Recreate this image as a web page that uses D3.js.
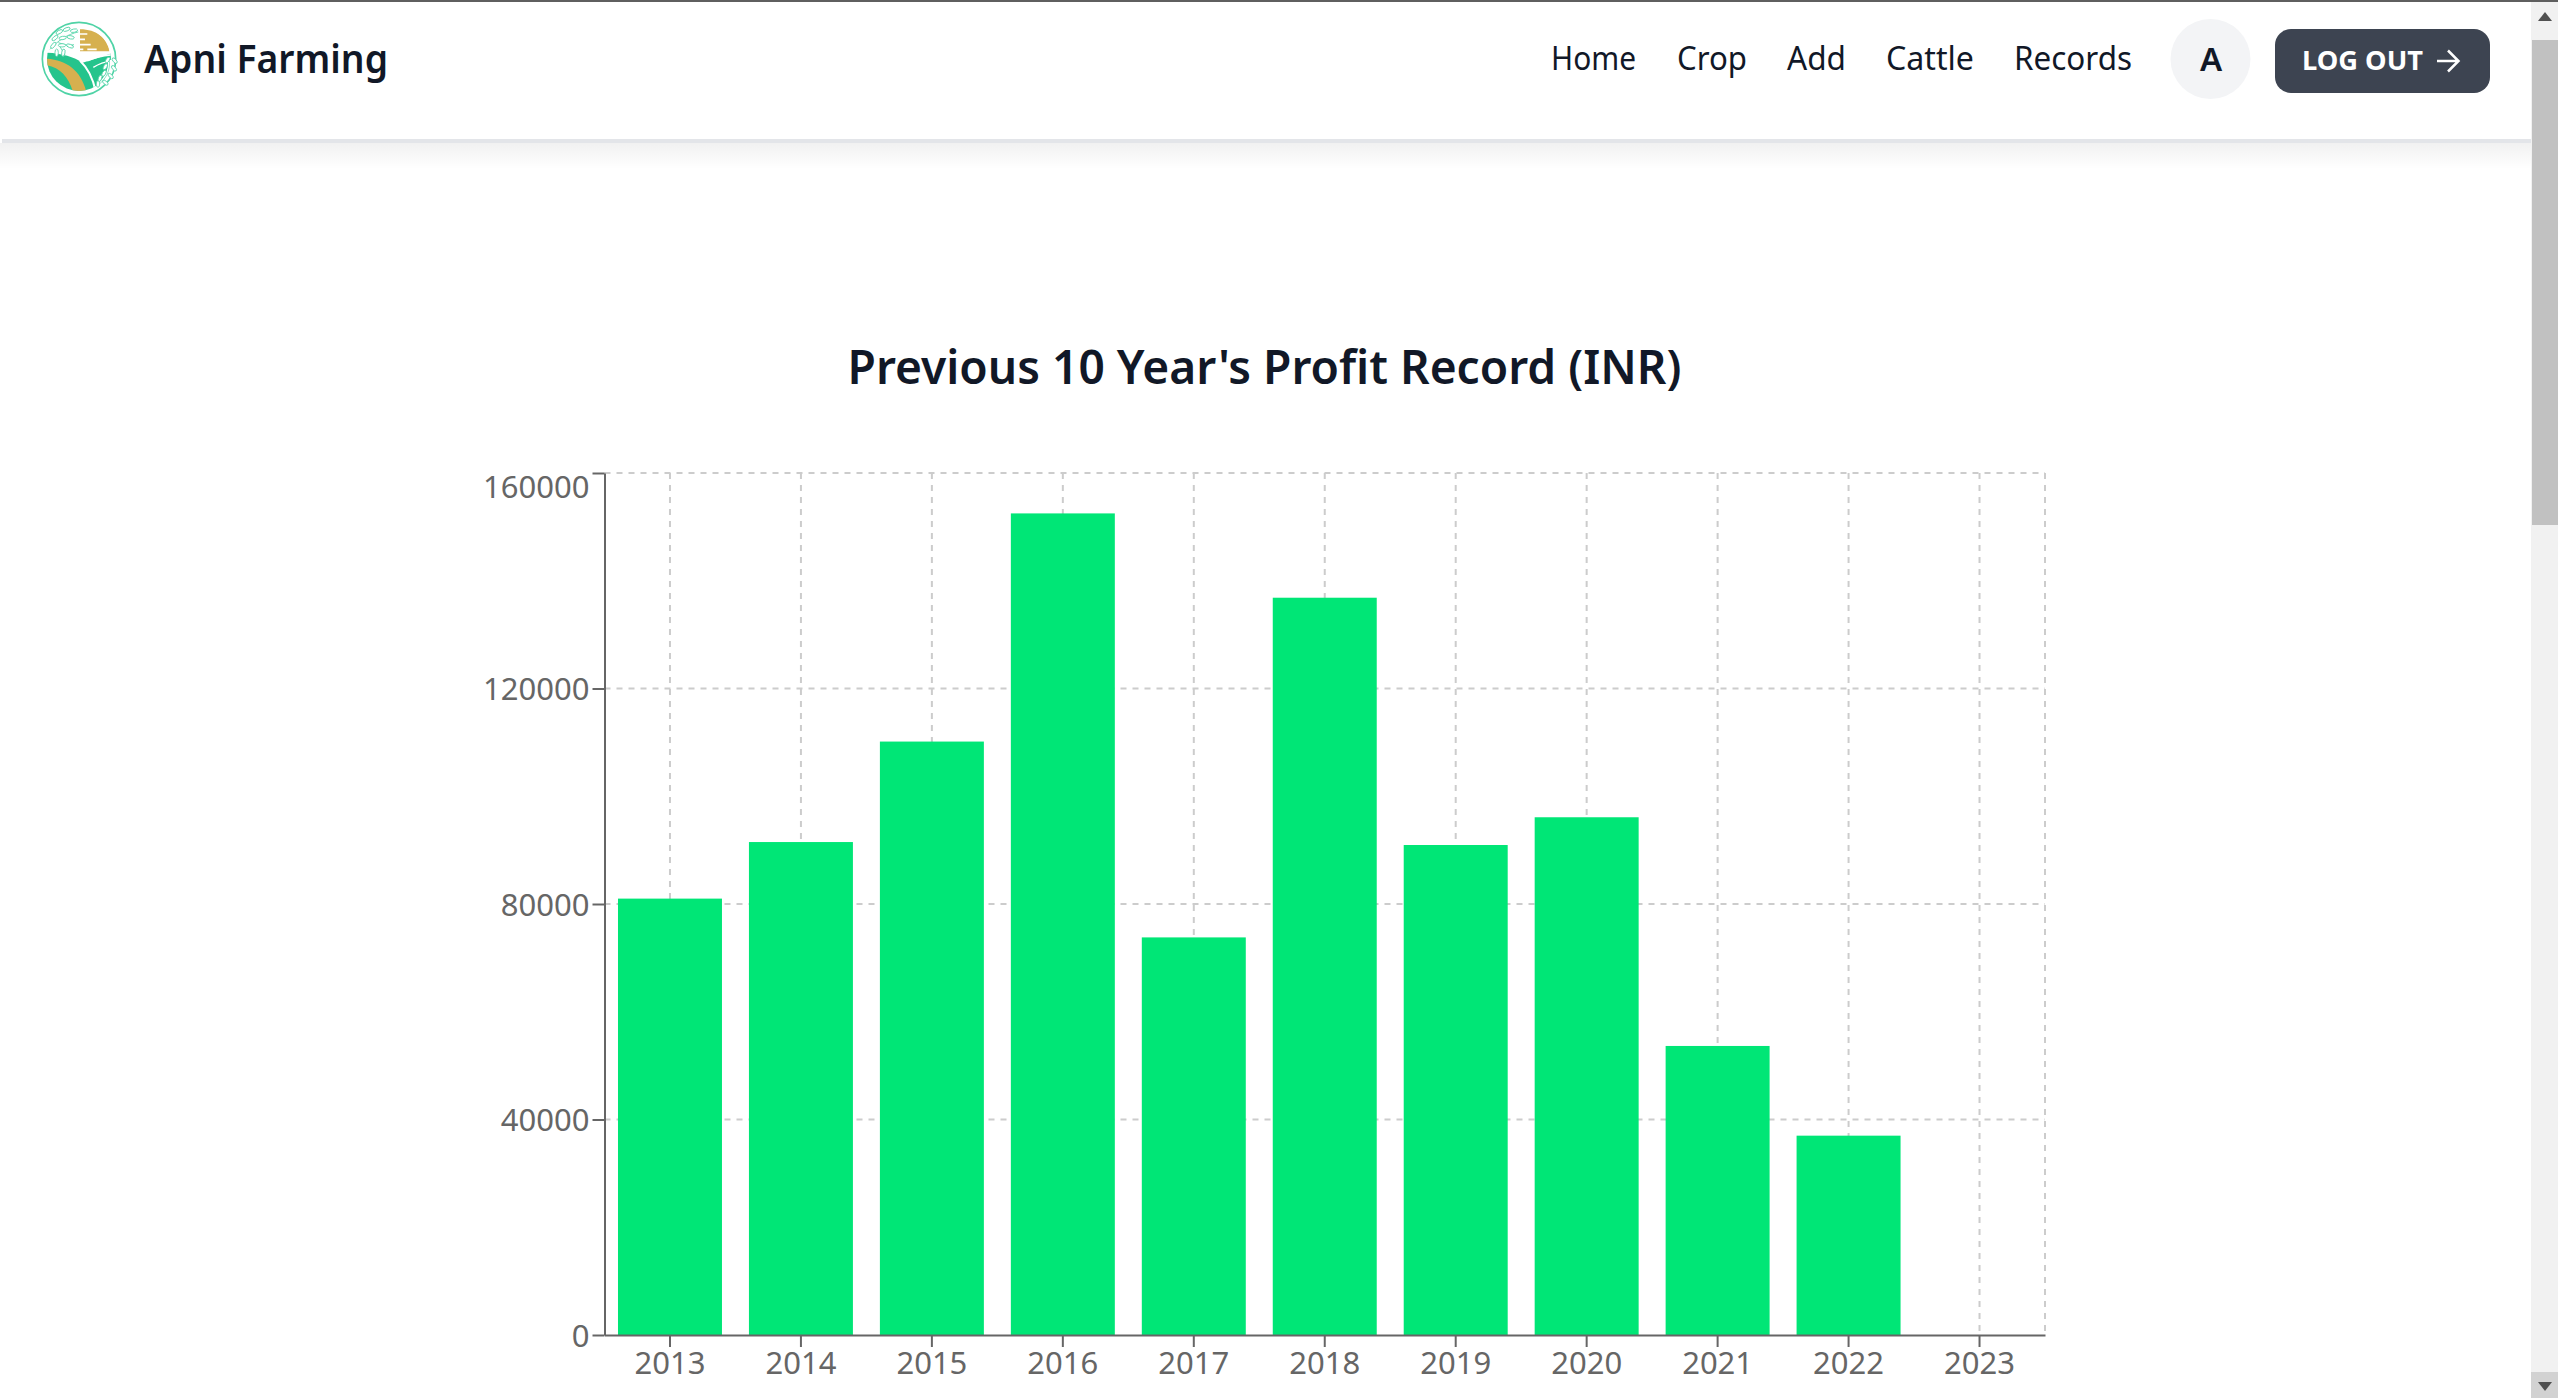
<!DOCTYPE html>
<html>
<head>
<meta charset="utf-8">
<title>Apni Farming</title>
<script src="https://cdn.jsdelivr.net/npm/d3@7"></script>
<style>
  html, body { margin: 0; padding: 0; background: #fff; overflow: hidden; }
  svg { display: block; }
  text { font-family: "Noto Sans", sans-serif; }
</style>
</head>
<body>
<div id="vis"></div>
<script>
const years = ['2013', '2014', '2015', '2016', '2017', '2018', '2019', '2020', '2021', '2022', '2023']
const profits = [81000, 91500, 110150, 152500, 73800, 136850, 90950, 96100, 53650, 37000, 0]
const yTicks = [0, 40000, 80000, 120000, 160000]
const chartTitle = "Previous 10 Year's Profit Record (INR)"
const brandName = 'Apni Farming'
const navLinks = ['Home', 'Crop', 'Add', 'Cattle', 'Records']
const navLeft = [1551, 1677, 1787, 1886, 2014]
const navWidth = [85, 70, 59, 88, 118]

const pageWidth = 2558
const pageHeight = 1398
const margin = {left: 604.5, top: 473, bottom: 63, right: 513}

const svg = d3.select('#vis').append('svg')
    .attr('width', pageWidth)
    .attr('height', pageHeight)

const defs = svg.append('defs')

// nav shadow fades out below the crisp band
const fade = defs.append('linearGradient')
    .attr('id', 'navFade')
    .attr('x1', 0).attr('x2', 0).attr('y1', 0).attr('y2', 1)
fade.append('stop').attr('offset', 0).attr('stop-color', '#000').attr('stop-opacity', 0.055)
fade.append('stop').attr('offset', 1).attr('stop-color', '#000').attr('stop-opacity', 0)

defs.append('clipPath').attr('id', 'logoClip')
    .append('circle').attr('cx', 147).attr('cy', 147).attr('r', 96)

drawChart()
drawNav()
drawScrollbar()

function drawChart(){
    const x = d3.scaleBand()
        .domain(years)
        .range([margin.left, pageWidth - margin.right])
        .paddingInner(0.206)
        .paddingOuter(0.103)
    const y = d3.scaleLinear()
        .domain([0, 160000])
        .range([pageHeight - margin.bottom, margin.top])
    const center = d => x(d) + x.bandwidth() / 2

    svg.append('text')
        .attr('x', 1264.5)
        .attr('y', 384)
        .attr('text-anchor', 'middle')
        .attr('textLength', 834)
        .attr('lengthAdjust', 'spacingAndGlyphs')
        .attr('font-size', 47)
        .attr('font-weight', 600)
        .attr('fill', '#111827')
        .text(chartTitle)

    // Grid first, the bars sit on top of it
    const grid = svg.append('g')
        .attr('stroke', '#ccc')
        .attr('stroke-width', 2)
        .attr('stroke-dasharray', '6 6')
    grid.selectAll('.h')
        .data(yTicks.filter(d => d > 0))
        .join('line')
        .attr('x1', x.range()[0])
        .attr('x2', x.range()[1])
        .attr('y1', d => y(d))
        .attr('y2', d => y(d))
    grid.selectAll('.v')
        .data(years)
        .join('line')
        .attr('x1', center)
        .attr('x2', center)
        .attr('y1', y.range()[1])
        .attr('y2', y.range()[0])
    grid.append('line')
        .attr('x1', x.range()[1])
        .attr('x2', x.range()[1])
        .attr('y1', y.range()[1])
        .attr('y2', y.range()[0])

    svg.append('g').selectAll('rect')
        .data(years)
        .join('rect')
        .attr('x', d => x(d))
        .attr('width', x.bandwidth())
        .attr('y', (d, i) => y(profits[i]))
        .attr('height', (d, i) => y(0) - y(profits[i]))
        .attr('fill', '#00e676')

    const xAxis = svg.append('g')
        .attr('transform', `translate(0,${y(0)})`)
        .call(d3.axisBottom(x).tickSize(12).tickSizeOuter(0).tickPadding(5))
    const yAxis = svg.append('g')
        .attr('transform', `translate(${margin.left},0)`)
        .call(d3.axisLeft(y).tickValues(yTicks).tickFormat(d3.format('d')).tickSize(12).tickSizeOuter(0).tickPadding(3))

    for (const axis of [xAxis, yAxis]) {
        axis.select('.domain').attr('stroke', '#666').attr('stroke-width', 2)
        axis.selectAll('.tick line').attr('stroke', '#666').attr('stroke-width', 2)
        axis.selectAll('.tick text')
            .attr('fill', '#666')
            .attr('font-size', 31)
            .style('font-family', '"Noto Sans", sans-serif')
    }
    yAxis.selectAll('.tick text').attr('dy', '0.36em')
    // the top label is pushed down inside the chart area
    yAxis.selectAll('.tick text').filter(d => d === 160000).attr('dy', '0.8em')
}

function drawNav(){
    svg.append('rect').attr('x', 0).attr('y', 143).attr('width', 2531).attr('height', 26).attr('fill', 'url(#navFade)')
    svg.append('rect').attr('x', 2).attr('y', 139).attr('width', 2529).attr('height', 4).attr('fill', '#e3e5e9')
    svg.append('rect').attr('x', 0).attr('y', 0).attr('width', pageWidth).attr('height', 139).attr('fill', '#fff')
    svg.append('rect').attr('x', 0).attr('y', 0).attr('width', pageWidth).attr('height', 2).attr('fill', '#5f5f5f')

    drawLogo()

    svg.append('text')
        .attr('x', 144)
        .attr('y', 73)
        .attr('textLength', 244)
        .attr('lengthAdjust', 'spacingAndGlyphs')
        .attr('font-size', 39)
        .attr('font-weight', 600)
        .attr('fill', '#111827')
        .text(brandName)

    svg.append('g').selectAll('text')
        .data(navLinks)
        .join('text')
        .attr('x', (d, i) => navLeft[i])
        .attr('y', 70)
        .attr('textLength', (d, i) => navWidth[i])
        .attr('lengthAdjust', 'spacingAndGlyphs')
        .attr('font-size', 33)
        .attr('fill', '#111827')
        .text(d => d)

    svg.append('circle').attr('cx', 2210.5).attr('cy', 59).attr('r', 40).attr('fill', '#f3f4f6')
    svg.append('text')
        .attr('x', 2211)
        .attr('y', 71)
        .attr('text-anchor', 'middle')
        .attr('font-size', 33)
        .attr('font-weight', 600)
        .attr('fill', '#111827')
        .text('A')

    svg.append('rect')
        .attr('x', 2275).attr('y', 29)
        .attr('width', 215).attr('height', 64)
        .attr('rx', 16)
        .attr('fill', '#3d4451')
    svg.append('text')
        .attr('x', 2302)
        .attr('y', 70)
        .attr('textLength', 121)
        .attr('lengthAdjust', 'spacingAndGlyphs')
        .attr('font-size', 27)
        .attr('font-weight', 700)
        .attr('fill', '#fff')
        .text('LOG OUT')
    svg.append('path')
        .attr('d', 'M2437 61H2458M2448 50.5L2458.5 61L2448 71.5')
        .attr('fill', 'none')
        .attr('stroke', '#fff')
        .attr('stroke-width', 2.5)
}

// logo is drawn in the 3x crop's units and scaled down
function drawLogo(){
    const teal = '#4fd3a6', green = '#25c48c', gold = '#d6b04f'
    const logo = svg.append('g').attr('transform', 'translate(30,10) scale(0.3333)')

    logo.append('circle').attr('cx', 147).attr('cy', 147).attr('r', 110)
        .attr('fill', '#fff').attr('stroke', teal).attr('stroke-width', 5)

    const inner = logo.append('g').attr('clip-path', 'url(#logoClip)')
    inner.append('path').attr('d', 'M150 58 C200 58 232 85 238 124 L150 124 Z').attr('fill', gold)
    inner.append('path')
        .attr('d', 'M140 72H172M132 88H165M142 104H182M140 118H160M172 118H200')
        .attr('stroke', '#fff').attr('stroke-width', 5).attr('fill', 'none')
    inner.append('path').attr('d', 'M40 128 C90 128 130 140 158 158 L250 128 L250 270 L40 270 Z').attr('fill', green)
    inner.append('path').attr('d', 'M40 146 C110 146 160 185 172 260 L132 260 C122 205 90 168 40 164 Z').attr('fill', gold)
    inner.append('path').attr('d', 'M150 152 C175 175 190 205 198 250').attr('fill', 'none').attr('stroke', '#fff').attr('stroke-width', 6)
    inner.append('path').attr('d', 'M172 152 C195 142 220 136 250 134').attr('fill', 'none').attr('stroke', '#fff').attr('stroke-width', 5)
    inner.append('path').attr('d', 'M190 172 C210 160 230 154 250 152').attr('fill', 'none').attr('stroke', '#fff').attr('stroke-width', 4)

    // wheat sprig, bottom right, and leaves, top left
    logo.append('path').attr('d', 'M238 150 C242 180 228 210 200 228').attr('fill', 'none').attr('stroke', '#fff').attr('stroke-width', 10)
    logo.append('path').attr('d', 'M238 150 C242 180 228 210 200 228').attr('fill', 'none').attr('stroke', teal).attr('stroke-width', 2)
    const sprig = [[233, 150, 35], [254, 152, -40], [226, 170, 30], [252, 175, -40], [222, 190, 30], [242, 198, -45], [210, 205, 20], [226, 218, -50], [204, 222, 0]]
    logo.selectAll('.sprig')
        .data(sprig)
        .join('ellipse')
        .attr('rx', 5).attr('ry', 10)
        .attr('transform', d => `translate(${d[0]},${d[1]}) rotate(${d[2]})`)
        .attr('fill', '#fff').attr('stroke', teal).attr('stroke-width', 2.5)

    const leaves = [[88, 66, 60], [110, 58, 70], [132, 62, 80], [75, 84, 50], [98, 84, 80], [122, 82, 100], [70, 106, 40], [96, 106, 90], [120, 108, 110], [100, 128, 10], [80, 128, 0]]
    logo.append('path').attr('d', 'M60 118 C85 90 115 72 145 66M85 98 C105 105 120 108 132 104M90 110 L105 135').attr('fill', 'none').attr('stroke', teal).attr('stroke-width', 2.5)
    logo.selectAll('.leaf')
        .data(leaves)
        .join('ellipse')
        .attr('rx', 5).attr('ry', 11)
        .attr('transform', d => `translate(${d[0]},${d[1]}) rotate(${d[2]})`)
        .attr('fill', '#fff').attr('stroke', teal).attr('stroke-width', 2.5)
}

function drawScrollbar(){
    svg.append('rect').attr('x', 2531).attr('y', 2).attr('width', 27).attr('height', pageHeight - 2).attr('fill', '#f1f1f1')
    svg.append('rect').attr('x', 2532).attr('y', 40).attr('width', 26).attr('height', 485).attr('fill', '#c1c1c1')
    svg.append('rect').attr('x', 2531).attr('y', 1372).attr('width', 27).attr('height', 26).attr('fill', '#d2d2d2')
    svg.append('path').attr('d', 'M2545 12L2552 21H2538Z').attr('fill', '#505050')
    svg.append('path').attr('d', 'M2545 1391L2552 1382H2538Z').attr('fill', '#505050')
}
</script>
</body>
</html>
